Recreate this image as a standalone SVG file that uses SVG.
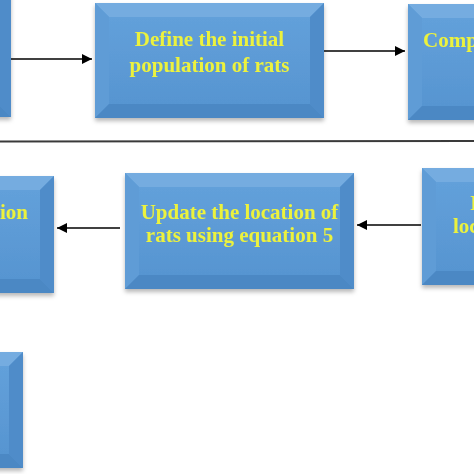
<svg xmlns="http://www.w3.org/2000/svg" width="474" height="474" viewBox="0 0 474 474">
<defs>
<style>
.face{fill:url(#fg);}
.bt{fill:#74ace0;}
.bl{fill:#5f9cd6;}
.br{fill:#4f8cc9;}
.bb{fill:#4c88c4;}
.lbl{font-family:"Liberation Serif","Times New Roman",serif;font-weight:bold;font-size:21px;fill:#ecf23e;}
.conn{stroke:#000;stroke-width:1.6;fill:none;}
</style>
<linearGradient id="fg" x1="0" y1="0" x2="0" y2="1">
<stop offset="0" stop-color="#62a0da"/>
<stop offset="1" stop-color="#5795d1"/>
</linearGradient>
<filter id="sh" x="-10%" y="-10%" width="120%" height="125%">
<feDropShadow dx="0" dy="3" stdDeviation="2" flood-color="#000" flood-opacity="0.28"/>
</filter>
<marker id="ah" viewBox="0 0 10 10" refX="10" refY="5" markerWidth="10" markerHeight="10" markerUnits="userSpaceOnUse" orient="auto">
<path d="M0,0 L10,5 L0,10 z" fill="#000"/>
</marker>
</defs>
<rect width="474" height="474" fill="#fff"/>

<g id="connectors">
<line class="conn" x1="11" y1="59" x2="92" y2="59" marker-end="url(#ah)"/>
<line class="conn" x1="324" y1="51" x2="405" y2="51" marker-end="url(#ah)"/>
<line class="conn" x1="120" y1="228" x2="57" y2="228" marker-end="url(#ah)"/>
<line class="conn" x1="421" y1="225" x2="357" y2="225" marker-end="url(#ah)"/>
</g>
<line id="separator" x1="0" y1="141.5" x2="474" y2="141" stroke="#3a3a3a" stroke-width="1.8"/>

<g id="nodeA" filter="url(#sh)">
<rect class="face" x="-60" y="-20" width="71" height="137"/>
<polygon class="br" points="11,-20 11,117 -3,103 -3,-6"/>
<polygon class="bb" points="-60,117 11,117 -3,103 -46,103"/>
</g>

<g id="nodeB" filter="url(#sh)">
<rect class="face" x="95" y="3" width="229" height="115"/>
<polygon class="bt" points="95,3 324,3 310,17 109,17"/>
<polygon class="bl" points="95,3 109,17 109,104 95,118"/>
<polygon class="br" points="324,3 324,118 310,104 310,17"/>
<polygon class="bb" points="95,118 324,118 310,104 109,104"/>
<rect x="109" y="17" width="201" height="87" class="face"/>
<text class="lbl" x="209.5" y="46" text-anchor="middle">Define the initial</text>
<text class="lbl" x="209.5" y="72" text-anchor="middle">population of rats</text>
</g>

<g id="nodeC" filter="url(#sh)">
<rect class="face" x="408" y="4" width="100" height="116"/>
<polygon class="bt" points="408,4 520,4 506,18 422,18"/>
<polygon class="bl" points="408,4 422,18 422,106 408,120"/>
<polygon class="bb" points="408,120 520,120 506,106 422,106"/>
<rect x="422" y="18" width="60" height="88" class="face"/>
<text class="lbl" x="423" y="47">Comp</text>
</g>

<g id="nodeD" filter="url(#sh)">
<rect class="face" x="-60" y="176" width="114" height="117"/>
<polygon class="bt" points="-60,176 54,176 40,190 -46,190"/>
<polygon class="br" points="54,176 54,293 40,279 40,190"/>
<polygon class="bb" points="-60,293 54,293 40,279 -46,279"/>
<rect x="-46" y="190" width="86" height="89" class="face"/>
<text class="lbl" x="28" y="219" text-anchor="end">tion</text>
</g>

<g id="nodeE" filter="url(#sh)">
<rect class="face" x="125" y="173" width="229" height="116"/>
<polygon class="bt" points="125,173 354,173 340,187 139,187"/>
<polygon class="bl" points="125,173 139,187 139,275 125,289"/>
<polygon class="br" points="354,173 354,289 340,275 340,187"/>
<polygon class="bb" points="125,289 354,289 340,275 139,275"/>
<rect x="139" y="187" width="201" height="88" class="face"/>
<text class="lbl" x="239.5" y="219" text-anchor="middle">Update the location of</text>
<text class="lbl" x="239.5" y="242" text-anchor="middle">rats using equation 5</text>
</g>

<g id="nodeF" filter="url(#sh)">
<rect class="face" x="422" y="168" width="100" height="117"/>
<polygon class="bt" points="422,168 534,168 520,182 436,182"/>
<polygon class="bl" points="422,168 436,182 436,271 422,285"/>
<polygon class="bb" points="422,285 534,285 520,271 436,271"/>
<rect x="436" y="182" width="60" height="89" class="face"/>
<text class="lbl" x="470" y="210">I</text>
<text class="lbl" x="453" y="233">loc</text>
</g>

<g id="nodeG" filter="url(#sh)">
<rect class="face" x="-60" y="352" width="83" height="116"/>
<polygon class="bt" points="-60,352 23,352 9,366 -46,366"/>
<polygon class="br" points="23,352 23,468 9,454 9,366"/>
<polygon class="bb" points="-60,468 23,468 9,454 -46,454"/>
<rect x="-46" y="366" width="55" height="88" class="face"/>
</g>
</svg>
